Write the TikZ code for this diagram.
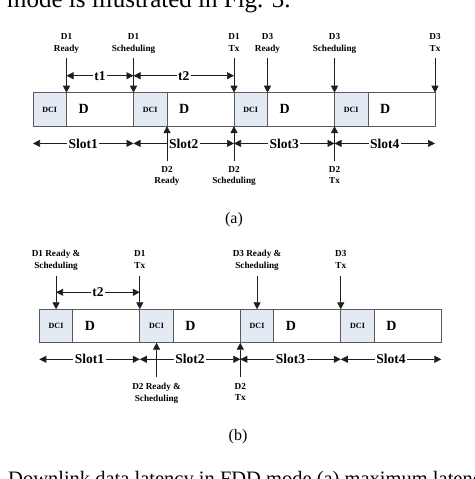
\documentclass[tikz,border=0pt]{standalone}
\usepackage{fontspec}
\setmainfont{Liberation Serif}
\usetikzlibrary{arrows.meta}
\definecolor{dcifill}{HTML}{E3EAF4}
\definecolor{boxline}{HTML}{5A5A5A}
\definecolor{arrline}{HTML}{1E1E1E}
\begin{document}
\begin{tikzpicture}[x=1pt,y=-1pt,
  cell/.style={draw=boxline, line width=0.8pt, minimum height=33.4pt, inner sep=0pt, outer sep=0pt, anchor=north west},
  dcicell/.style={cell, fill=dcifill, minimum width=33.5pt, font=\bfseries\fontsize{8}{9}\selectfont},
  dcell/.style={cell, minimum width=67pt, text width=43pt, inner xsep=12pt, align=left, font=\bfseries\fontsize{14}{16}\selectfont},
  lbl/.style={font=\bfseries\fontsize{9.2}{11.5}\selectfont, align=center, inner sep=0pt, execute at end node=\strut},
  arr/.style={draw=arrline, line width=0.7pt, -{Triangle[length=7pt,width=7pt]}},
  dim/.style={draw=arrline, line width=0.7pt, {Triangle[length=7pt,width=7pt]}-{Triangle[length=7pt,width=7pt]}},
  dimlbl/.style={fill=white, inner xsep=1.5pt, inner ysep=0pt, font=\bfseries\fontsize{13.5}{14}\selectfont},
  captxt/.style={font=\fontsize{16}{18}\selectfont, inner sep=0pt}
]
\path[use as bounding box, clip] (0,0) rectangle (474,479);

% page text fragments
\node[anchor=base west, inner sep=0pt, font=\fontsize{25}{30}\selectfont] (ptop) at (7,7) {mode is illustrated in Fig. 3.};
\node[anchor=base west, inner sep=0pt, font=\fontsize{20.5}{24}\selectfont] (pbot) at (8,485.6) {Downlink data latency in FDD mode (a) maximum latency};

% ---------------- (a) ----------------
\node[dcicell] (c1a) at (33,92.7) {DCI};
\node[dcell] (d1a) at (c1a.north east) {D};
\node[dcicell] (c2a) at (d1a.north east) {DCI};
\node[dcell] (d2a) at (c2a.north east) {D};
\node[dcicell] (c3a) at (d2a.north east) {DCI};
\node[dcell] (d3a) at (c3a.north east) {D};
\node[dcicell] (c4a) at (d3a.north east) {DCI};
\node[dcell] (d4a) at (c4a.north east) {D};

\node[lbl, anchor=south] (ta1) at (c1a.north east |- 0,55) {D1\\Ready};
\node[lbl, anchor=south] (ta2) at (c2a.north west |- 0,55) {D1\\Scheduling};
\node[lbl, anchor=south] (ta3) at (c3a.north west |- 0,55) {D1\\Tx};
\node[lbl, anchor=south] (ta4) at (c3a.north east |- 0,55) {D3\\Ready};
\node[lbl, anchor=south] (ta5) at (c4a.north west |- 0,55) {D3\\Scheduling};
\node[lbl, anchor=south] (ta6) at (d4a.north east |- 0,55) {D3\\Tx};
\draw[arr, shorten <=3pt] (ta1.south) -- (c1a.north east);
\draw[arr, shorten <=3pt] (ta2.south) -- (c2a.north west);
\draw[arr, shorten <=3pt] (ta3.south) -- (c3a.north west);
\draw[arr, shorten <=3pt] (ta4.south) -- (c3a.north east);
\draw[arr, shorten <=3pt] (ta5.south) -- (c4a.north west);
\draw[arr, shorten <=3pt] (ta6.south) -- (d4a.north east);

\node[lbl, anchor=north] (ba1) at (c2a.south east |- 0,166) {D2\\Ready};
\node[lbl, anchor=north] (ba2) at (c3a.south west |- 0,166) {D2\\Scheduling};
\node[lbl, anchor=north] (ba3) at (c4a.south west |- 0,166) {D2\\Tx};
\draw[arr, shorten <=5pt] (ba1.north) -- (c2a.south east);
\draw[arr, shorten <=5pt] (ba2.north) -- (c3a.south west);
\draw[arr, shorten <=5pt] (ba3.north) -- (c4a.south west);

\draw[dim] ([yshift=17pt]c1a.north east) -- node[dimlbl] (t1a) {t1} ([yshift=17pt]c2a.north west);
\draw[dim] ([yshift=17pt]c2a.north west) -- node[dimlbl] (t2a) {t2} ([yshift=17pt]c3a.north west);

\draw[dim] ([yshift=-17.3pt]c1a.south west) -- node[dimlbl] (s1a) {Slot1} ([yshift=-17.3pt]c2a.south west);
\draw[dim] ([yshift=-17.3pt]c2a.south west) -- node[dimlbl] (s2a) {Slot2} ([yshift=-17.3pt]c3a.south west);
\draw[dim] ([yshift=-17.3pt]c3a.south west) -- node[dimlbl] (s3a) {Slot3} ([yshift=-17.3pt]c4a.south west);
\draw[dim] ([yshift=-17.3pt]c4a.south west) -- node[dimlbl] (s4a) {Slot4} ([yshift=-17.3pt]d4a.south east);

\node[captxt] (capa) at (234,220) {(a)};

% ---------------- (b) ----------------
\node[dcicell] (c1b) at (39.3,309.3) {DCI};
\node[dcell] (d1b) at (c1b.north east) {D};
\node[dcicell] (c2b) at (d1b.north east) {DCI};
\node[dcell] (d2b) at (c2b.north east) {D};
\node[dcicell] (c3b) at (d2b.north east) {DCI};
\node[dcell] (d3b) at (c3b.north east) {D};
\node[dcicell] (c4b) at (d3b.north east) {DCI};
\node[dcell] (d4b) at (c4b.north east) {D};

\node[lbl, anchor=south] (tb1) at (c1b.north |- 0,272) {D1 Ready \&\\Scheduling};
\node[lbl, anchor=south] (tb2) at (c2b.north west |- 0,272) {D1\\Tx};
\node[lbl, anchor=south] (tb3) at (c3b.north |- 0,272) {D3 Ready \&\\Scheduling};
\node[lbl, anchor=south] (tb4) at (c4b.north west |- 0,272) {D3\\Tx};
\draw[arr, shorten <=3.5pt] (tb1.south) -- (c1b.north);
\draw[arr, shorten <=3.5pt] (tb2.south) -- (c2b.north west);
\draw[arr, shorten <=3.5pt] (tb3.south) -- (c3b.north);
\draw[arr, shorten <=3.5pt] (tb4.south) -- (c4b.north west);

\node[lbl, anchor=north] (bb1) at (c2b.south |- 0,383) {D2 Ready \&\\Scheduling};
\node[lbl, anchor=north] (bb2) at (c3b.south west |- 0,383) {D2\\Tx};
\draw[arr, shorten <=6pt] (bb1.north) -- (c2b.south);
\draw[arr, shorten <=6pt] (bb2.north) -- (c3b.south west);

\draw[dim] ([yshift=17pt]c1b.north) -- node[dimlbl] (t2b) {t2} ([yshift=17pt]c2b.north west);

\draw[dim] ([yshift=-16.6pt]c1b.south west) -- node[dimlbl] (s1b) {Slot1} ([yshift=-16.6pt]c2b.south west);
\draw[dim] ([yshift=-16.6pt]c2b.south west) -- node[dimlbl] (s2b) {Slot2} ([yshift=-16.6pt]c3b.south west);
\draw[dim] ([yshift=-16.6pt]c3b.south west) -- node[dimlbl] (s3b) {Slot3} ([yshift=-16.6pt]c4b.south west);
\draw[dim] ([yshift=-16.6pt]c4b.south west) -- node[dimlbl] (s4b) {Slot4} ([yshift=-16.6pt]d4b.south east);

\node[captxt] (capb) at (238,437) {(b)};
\end{tikzpicture}
\end{document}
